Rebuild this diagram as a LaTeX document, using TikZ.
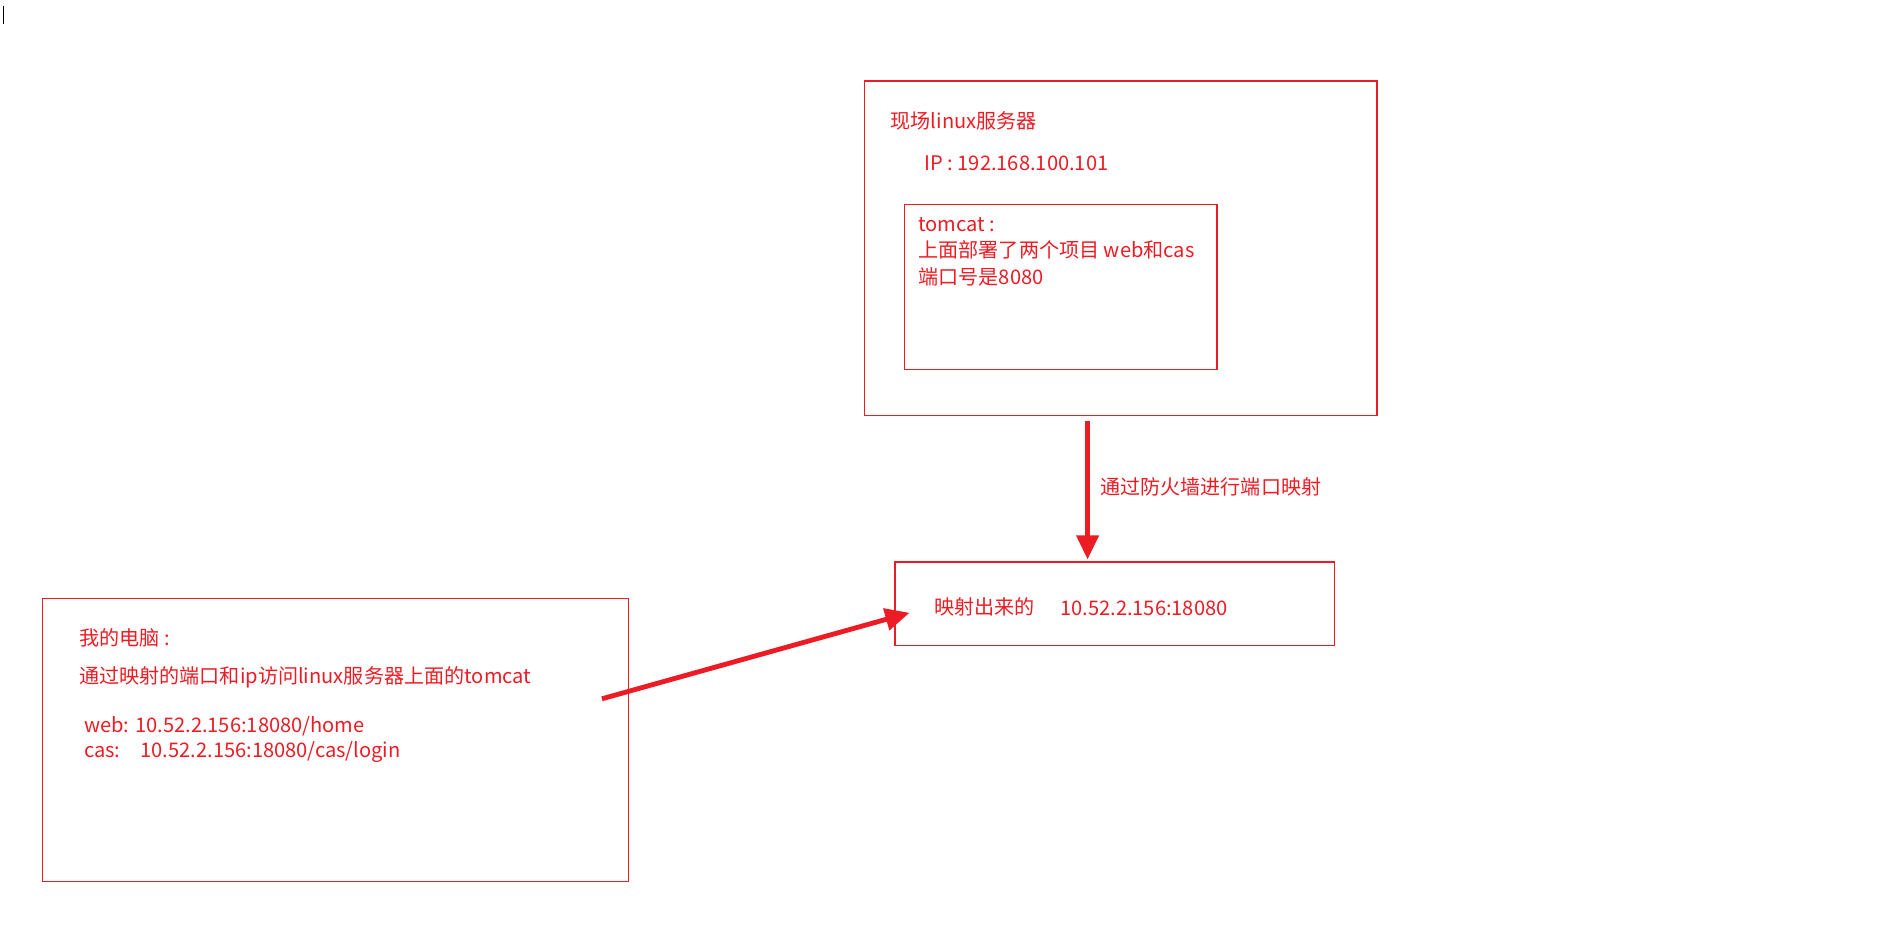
\documentclass[tikz,border=0pt]{standalone}
\usepackage{fontspec}
\setmainfont{Noto Sans CJK SC}
\usetikzlibrary{arrows.meta}
\definecolor{rd}{RGB}{237,28,36}
\begin{document}
\begin{tikzpicture}[x=0.5pt,y=-0.5pt,
  box/.style={draw=rd,line width=0.6pt},
  txt/.style={text=rd,anchor=west,inner sep=0pt,font=\fontsize{8.3}{11}\selectfont},
  bigarrow/.style={draw=rd,line width=2pt,-{Triangle[length=10pt,width=9pt]}}]
\useasboundingbox (0,0) rectangle (1568,765);
\draw[line width=0.5pt] (3,5) -- (3,20);
% server
\draw[box] (714,67) rectangle (1137,343);
\node[txt] (t1) at (735,100) {现场linux服务器};
\node[txt] (t2) at (763,135) {IP : 192.168.100.101};
\draw[box] (747,169) rectangle (1005,305);
\node[txt,align=left,anchor=north west] (t3) at (758,179) {tomcat :\\上面部署了两个项目 web和cas\\端口号是8080};
% mapped
\draw[box] (739,464) rectangle (1102,533);
\node[txt] (m1) at (771,501) {映射出来的};
\node[txt] (m2) at (875,502) {10.52.2.156:18080};
\coordinate (a1) at (898,348);
\coordinate (a2) at (898,462);
\draw[bigarrow] (a1) -- (a2);
\node[txt] (lab) at (908,402) {通过防火墙进行端口映射};
% pc
\draw[box] (35,494) rectangle (519,728);
\node[txt] (p1) at (65,527) {我的电脑 :};
\node[txt] (p2) at (65,559) {通过映射的端口和ip访问linux服务器上面的tomcat};
\node[txt] (p3) at (69,600) {web: 10.52.2.156:18080/home};
\node[txt] (p4) at (69,621) {cas:\quad 10.52.2.156:18080/cas/login};
\coordinate (b1) at (497,577);
\coordinate (b2) at (751,506);
\draw[bigarrow] (b1) -- (b2);
\end{tikzpicture}
\end{document}
